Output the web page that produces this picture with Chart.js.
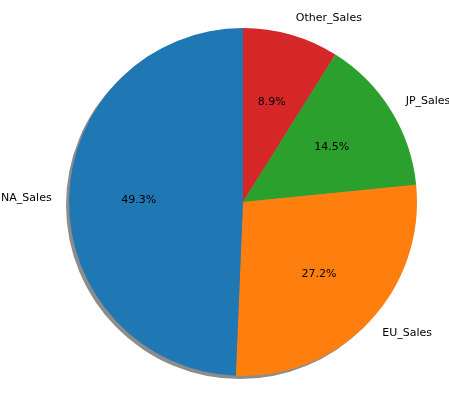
<!DOCTYPE html>
<html>
<head>
<script src="https://cdn.jsdelivr.net/npm/chart.js@4"></script>
<style>body{margin:0;background:#fff}</style>
</head>
<body>
<canvas id="pie" width="449" height="407"></canvas>
<script>
// drawn clockwise in Chart.js, so the order is reversed compared to matplotlib
const labels = ['Other_Sales', 'JP_Sales', 'EU_Sales', 'NA_Sales'];
const values = [8.9, 14.5, 27.2, 49.3];
const colors = ['#d62728', '#2ca02c', '#ff7f0e', '#1f77b4'];

const shadowPlugin = {
    id: 'shadow',
    beforeDatasetsDraw(chart) {
        const arc = chart.getDatasetMeta(0).data[0];
        const ctx = chart.ctx;
        ctx.save();
        ctx.fillStyle = 'rgba(0,0,0,0.45)';
        ctx.beginPath();
        ctx.arc(arc.x - 3, arc.y + 3, arc.outerRadius, 0, Math.PI * 2);
        ctx.fill();
        ctx.restore();
    }
};

const labelPlugin = {
    id: 'pieLabels',
    afterDatasetsDraw(chart) {
        const ctx = chart.ctx;
        const total = values.reduce((a, b) => a + b, 0);
        ctx.save();
        ctx.font = '11px "DejaVu Sans"';
        ctx.fillStyle = '#000';
        ctx.textBaseline = 'middle';
        chart.getDatasetMeta(0).data.forEach((arc, i) => {
            const mid = (arc.startAngle + arc.endAngle) / 2;
            const r = arc.outerRadius;
            ctx.textAlign = 'center';
            ctx.fillText((values[i] / total * 100).toFixed(1) + '%', arc.x + Math.cos(mid) * r * 0.6, arc.y + Math.sin(mid) * r * 0.6);
            const lx = arc.x + Math.cos(mid) * r * 1.1;
            const ly = arc.y + Math.sin(mid) * r * 1.1;
            ctx.textAlign = Math.cos(mid) >= 0 ? 'left' : 'right';
            ctx.fillText(labels[i], lx, ly);
        });
        ctx.restore();
    }
};

new Chart(document.getElementById('pie').getContext('2d'), {
    type: 'pie',
    data: {
        labels: labels,
        datasets: [{
            data: values,
            backgroundColor: colors,
            borderWidth: 0
        }]
    },
    options: {
        responsive: false,
        animation: false,
        layout: { padding: { left: 69, right: 32, top: 28, bottom: 31 } },
        plugins: { legend: { display: false }, tooltip: { enabled: false } }
    },
    plugins: [shadowPlugin, labelPlugin]
});
</script>
</body>
</html>
